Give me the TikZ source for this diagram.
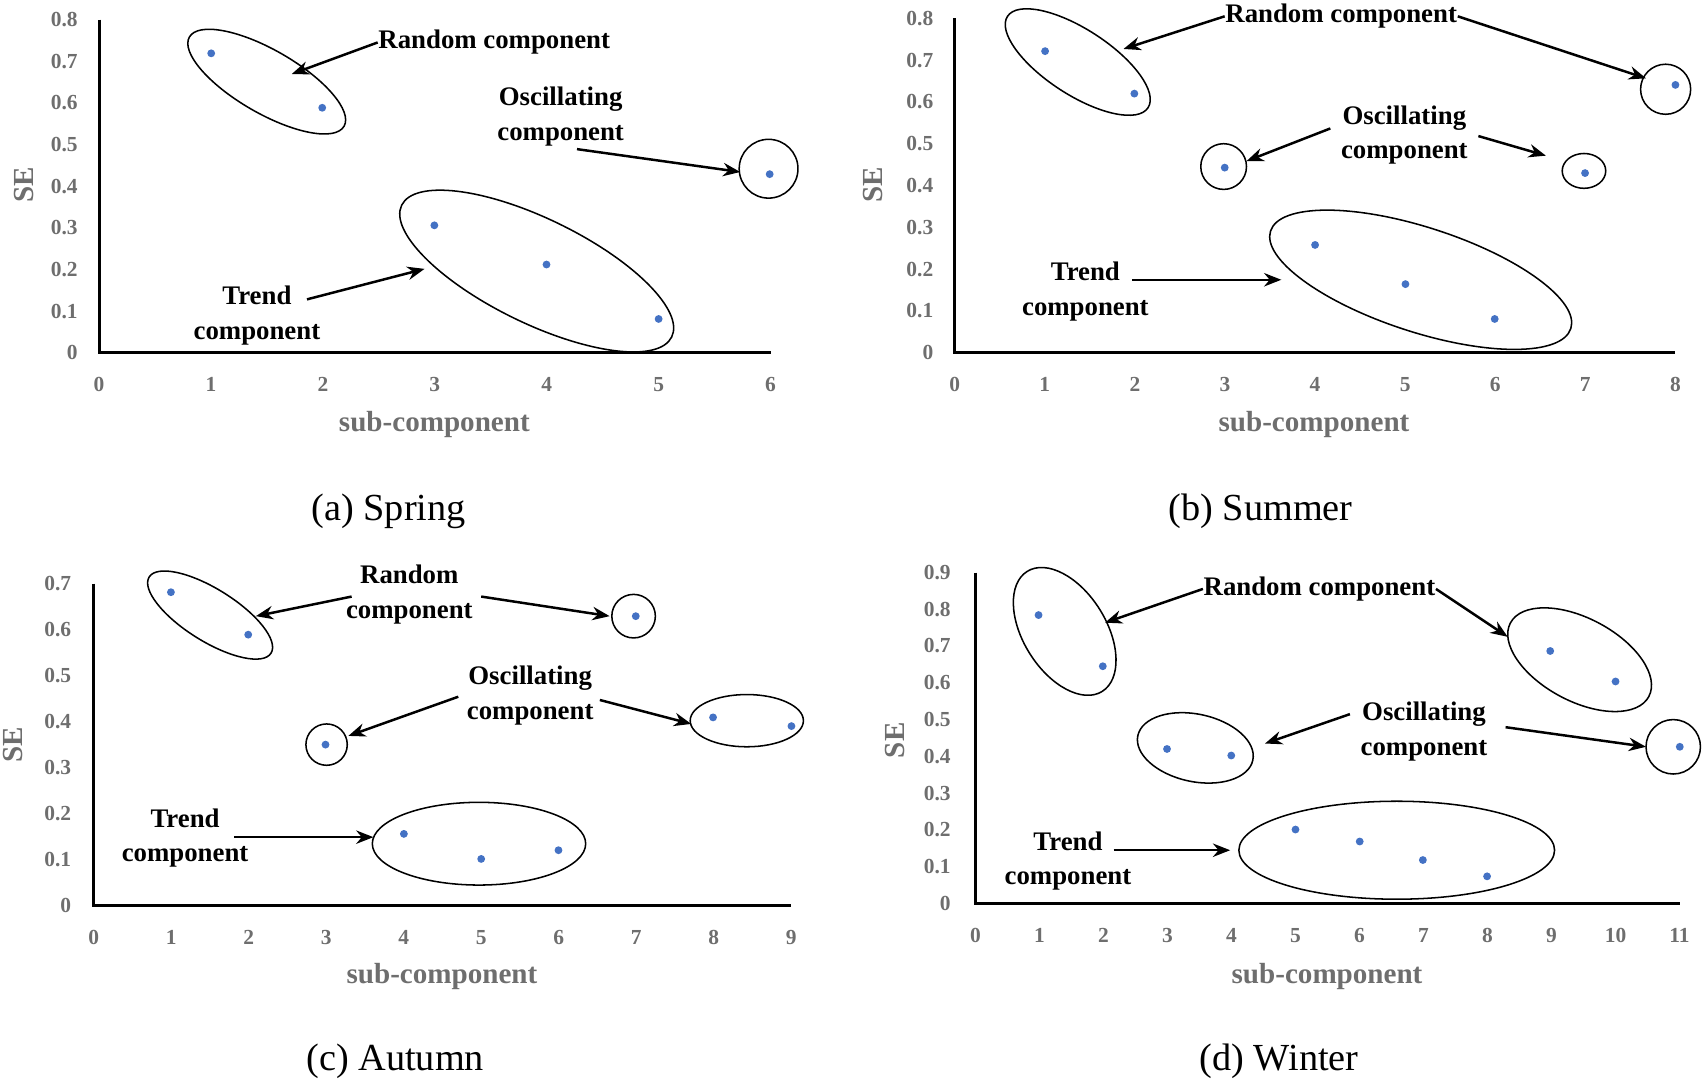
\documentclass[tikz,border=0pt]{standalone}
\usepackage{fontspec}
\setmainfont{Liberation Serif}
\usetikzlibrary{arrows.meta}
\definecolor{dot}{RGB}{68,114,196}
\definecolor{axg}{RGB}{110,110,110}
\tikzset{
 tick/.style={font=\bfseries\fontsize{5.6}{6.5}\selectfont,text=axg,inner sep=0},
 axlab/.style={font=\bfseries\fontsize{7.6}{8.5}\selectfont,text=axg,inner sep=0},
 ann/.style={font=\bfseries\fontsize{7}{9}\selectfont,align=center,inner sep=0},
 captxt/.style={font=\fontsize{10}{11}\selectfont,inner sep=0},
 arr/.style={-{Stealth[length=4.5pt,width=3.5pt]},line width=0.65pt},
 grp/.style={draw,line width=0.4pt},
 axis/.style={line width=0.75pt},
}
\newcommand{\pt}[2]{\fill[dot] (#1,#2) circle (3.6);}
\begin{document}
\begin{tikzpicture}[x=0.01cm,y=-0.01cm]
\useasboundingbox (0,0) rectangle (1568,995);
% ===== (a)
\draw[axis] (91,18) -- (91,324) -- (708,324);
\foreach \v [count=\k from 0] in {0,0.1,0.2,0.3,0.4,0.5,0.6,0.7,0.8}
  \node[tick,anchor=east] at (72,{324-\k*38.25}) {\v};
\foreach \k in {0,...,6} \node[tick] at ({91+\k*102.8},353) {\k};
\node[axlab,rotate=90] (sea) at (22,170) {SE};
\node[axlab] (xa) at (399,390) {sub-component};
\node[captxt] (ca) at (357,470) {(a) Spring};
\pt{194}{49}\pt{296}{99}\pt{399}{207}\pt{502}{243}\pt{605}{293}\pt{707}{160}
\draw[grp,rotate around={-30:(245,75)}] (245,75) ellipse (82 and 29);
\draw[grp] (706,155) circle (27);
\draw[grp,rotate around={-26:(493,249)}] (493,249) ellipse (138 and 48);
\node[ann] (ra) at (454,39) {Random component};
\node[ann] (oa) at (515,107) {Oscillating\\component};
\node[ann] (ta) at (236,290) {Trend\\component};
\coordinate (ra1) at (268,68); \coordinate (oa1) at (680,158); \coordinate (ta1) at (390,247);
\draw[arr] (ra.west) -- (ra1);
\draw[arr] (530,137) -- (oa1);
\draw[arr] (282,275) -- (ta1);
% ===== (b)
\draw[axis] (877,17) -- (877,324) -- (1539,324);
\foreach \v [count=\k from 0] in {0,0.1,0.2,0.3,0.4,0.5,0.6,0.7,0.8}
  \node[tick,anchor=east] at (858,{324-\k*38.4}) {\v};
\foreach \k in {0,...,8} \node[tick] at ({877+\k*82.75},353) {\k};
\node[axlab,rotate=90] (seb) at (802,170) {SE};
\node[axlab] (xb) at (1207,390) {sub-component};
\node[captxt] (cb) at (1158,470) {(b) Summer};
\pt{960}{47}\pt{1042}{86}\pt{1125}{154}\pt{1208}{225}\pt{1291}{261}\pt{1373}{293}\pt{1456}{159}\pt{1539}{78}
\draw[grp,rotate around={-33:(990,57)}] (990,57) ellipse (77 and 30);
\draw[grp] (1530,82) circle (23);
\draw[grp] (1124,153) circle (21);
\draw[grp] (1455,157) ellipse (20 and 16);
\draw[grp,rotate around={-18:(1305,257)}] (1305,257) ellipse (145 and 48);
\node[ann] (rb) at (1232,15) {Random component};
\node[ann] (ob) at (1290,124) {Oscillating\\component};
\node[ann] (tb) at (997,268) {Trend\\component};
\coordinate (rb1) at (1032,45); \coordinate (rb2) at (1512,72);
\coordinate (ob1) at (1145,148); \coordinate (ob2) at (1420,143); \coordinate (tb1) at (1177,257);
\draw[arr] (rb.west) -- (rb1);
\draw[arr] (rb.east) -- (rb2);
\draw[arr] (1222,118) -- (ob1);
\draw[arr] (1358,125) -- (ob2);
\draw[arr] (1040,257) -- (tb1);
% ===== (c)
\draw[axis] (86,536) -- (86,832) -- (727,832);
\foreach \v [count=\k from 0] in {0,0.1,0.2,0.3,0.4,0.5,0.6,0.7}
  \node[tick,anchor=east] at (66,{832-\k*42.3}) {\v};
\foreach \k in {0,...,9} \node[tick] at ({86+\k*71.2},861) {\k};
\node[axlab,rotate=90] (sec) at (12,684) {SE};
\node[axlab] (xc) at (406,897) {sub-component};
\node[captxt] (cc) at (363,975) {(c) Autumn};
\pt{157}{544}\pt{228}{583}\pt{299}{684}\pt{371}{766}\pt{442}{789}\pt{513}{781}\pt{584}{566}\pt{655}{659}\pt{727}{667}
\draw[grp,rotate around={-32:(193,565)}] (193,565) ellipse (66 and 24);
\draw[grp] (582,566) circle (20);
\draw[grp] (300,684) circle (19);
\draw[grp] (686,662) ellipse (52 and 24);
\draw[grp] (440,775) ellipse (98 and 38);
\node[ann] (rc) at (376,546) {Random\\component};
\node[ann] (oc) at (487,639) {Oscillating\\component};
\node[ann] (tc) at (170,770) {Trend\\component};
\coordinate (rc1) at (235,566); \coordinate (rc2) at (560,566);
\coordinate (oc1) at (320,676); \coordinate (oc2) at (635,665); \coordinate (tc1) at (343,769);
\draw[arr] (323,548) -- (rc1);
\draw[arr] (442,548) -- (rc2);
\draw[arr] (421,640) -- (oc1);
\draw[arr] (551,643) -- (oc2);
\draw[arr] (215,769) -- (tc1);
% ===== (d)
\draw[axis] (896,526) -- (896,830) -- (1543,830);
\foreach \v [count=\k from 0] in {0,0.1,0.2,0.3,0.4,0.5,0.6,0.7,0.8,0.9}
  \node[tick,anchor=east] at (874,{830-\k*33.8}) {\v};
\foreach \k in {0,...,11} \node[tick] at ({896+\k*58.8},859) {\k};
\node[axlab,rotate=90] (sed) at (822,680) {SE};
\node[axlab] (xd) at (1219,897) {sub-component};
\node[captxt] (cd) at (1175,975) {(d) Winter};
\pt{954}{565}\pt{1013}{612}\pt{1072}{688}\pt{1131}{694}\pt{1190}{762}\pt{1249}{773}\pt{1307}{790}\pt{1366}{805}\pt{1424}{598}\pt{1484}{626}\pt{1543}{686}
\draw[grp,rotate around={-58:(978,580)}] (978,580) ellipse (65 and 38);
\draw[grp,rotate around={-28:(1451,606)}] (1451,606) ellipse (72 and 38);
\draw[grp,rotate around={-12:(1098,687)}] (1098,687) ellipse (54 and 31);
\draw[grp] (1537,686) circle (25);
\draw[grp] (1283,781) ellipse (145 and 45);
\node[ann] (rd) at (1212,541) {Random component};
\node[ann] (od) at (1308,672) {Oscillating\\component};
\node[ann] (td) at (981,791) {Trend\\component};
\coordinate (rd1) at (1015,572); \coordinate (rd2) at (1385,585);
\coordinate (od1) at (1162,683); \coordinate (od2) at (1512,686); \coordinate (td1) at (1130,781);
\draw[arr] (rd.west) -- (rd1);
\draw[arr] (rd.east) -- (rd2);
\draw[arr] (1240,656) -- (od1);
\draw[arr] (1383,668) -- (od2);
\draw[arr] (1023,781) -- (td1);
\end{tikzpicture}
\end{document}
